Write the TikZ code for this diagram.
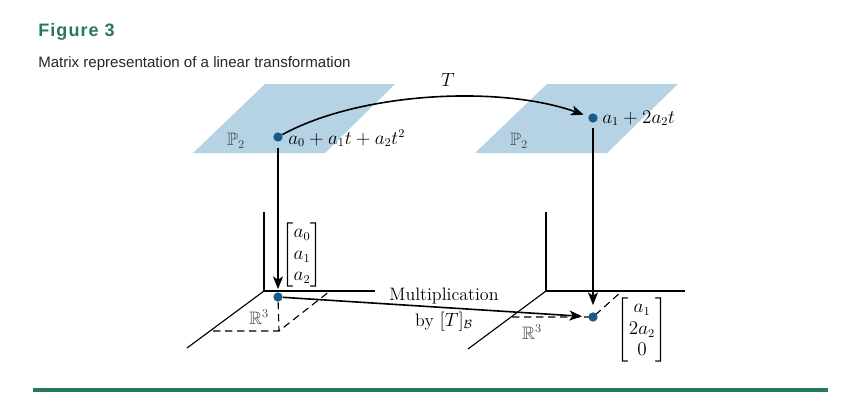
\documentclass[tikz,border=0pt]{standalone}
\usepackage{amsmath,amssymb}
\usepackage{fontspec}
\newfontfamily\figfont[LetterSpace=6]{Liberation Sans}
\newfontfamily\capfont{Liberation Sans}
\usetikzlibrary{arrows.meta}
\definecolor{figgreen}{RGB}{40,120,90}
\definecolor{planeblue}{RGB}{181,211,229}
\definecolor{dotblue}{RGB}{26,92,135}
\definecolor{labgray}{RGB}{70,70,70}
\tikzset{
  dot/.style={circle,fill=dotblue,inner sep=0pt,minimum size=7pt},
  plane/.style={fill=planeblue,draw=none},
  axis/.style={line width=0.85pt,black},
  dsh/.style={line width=0.85pt,dash pattern=on 5.5pt off 3.5pt},
  arr/.style={line width=1.2pt,-{Stealth[length=9.5pt,width=7.5pt,inset=2.5pt]}},
  txt/.style={font=\fontsize{13.5}{16}\selectfont,inner sep=0pt},
  lab/.style={txt,text=labgray},
}
\begin{document}
\begin{tikzpicture}[x=0.75pt,y=-0.75pt]
\useasboundingbox (0,0) rectangle (850,408);
% header
\node[anchor=base west,inner sep=0pt,text=figgreen,font=\figfont\bfseries\fontsize{13.5}{16}\selectfont] (fig) at (38,36) {Figure 3};
\node[anchor=base west,inner sep=0pt,text=black!85,font=\capfont\fontsize{11.3}{13}\selectfont] (cap) at (38,67) {Matrix representation of a linear transformation};
\draw[figgreen,line width=2.3pt] (33,390) -- (828,390);
% planes
\fill[plane] (193,153) -- (265,84) -- (395,84) -- (325,153) -- cycle;
\fill[plane] (475,153) -- (547,84) -- (678,84) -- (607,153) -- cycle;
\node[lab] (P1) at (236,141) {$\mathbb{P}_2$};
\node[lab] (P2) at (519,141) {$\mathbb{P}_2$};
% left axes
\coordinate (O1) at (264,291);
\draw[axis] (264,212) -- (O1) -- (375,291);
\draw[axis] (O1) -- (187,348);
\draw[dsh] (213,331) -- (279,331) -- (330,291);
% right axes
\coordinate (O2) at (546,291);
\draw[axis] (546,212) -- (O2) -- (685,291);
\draw[axis] (O2) -- (468,349);
\draw[dsh] (512,317) -- (593,317) -- (622,291);
% dots
\node[dot] (d1) at (278,137) {};
\node[dot] (d2) at (593,118) {};
\node[dot] (d3) at (278,297) {};
\node[dot] (d4) at (593,317) {};
\draw[dsh] (d3) -- (279,331);
% labels
\node[txt,anchor=base west] (e1) at (288,144) {$a_0+a_1t+a_2t^2$};
\node[txt,anchor=base west] (e2) at (602,123) {$a_1+2a_2t$};
\node[txt] (T) at (448,80) {$T$};
\node[txt] (m1) at (302,255) {$\begin{bmatrix}a_0\\a_1\\a_2\end{bmatrix}$};
\node[txt] (m2) at (642,330) {$\begin{bmatrix}a_1\\2a_2\\0\end{bmatrix}$};
\node[lab] (R1) at (259,317) {$\mathbb{R}^3$};
\node[lab] (R2) at (532,332) {$\mathbb{R}^3$};
\node[txt,anchor=base] (mult) at (444,300) {Multiplication};
\node[txt,anchor=base] (by) at (444,326) {by $[T]_{\mathcal{B}}$};
% connectors
\draw[arr,shorten >=3.75pt] (d1) .. controls (360,92) and (500,85) .. (d2);
\draw[arr,shorten <=4.5pt,shorten >=2.25pt] (d1) -- (d3);
\draw[arr,shorten <=3.75pt,shorten >=5.25pt] (d2) -- (d4);
\draw[arr,shorten >=4.5pt] (d3) -- (d4);
\end{tikzpicture}
\end{document}
